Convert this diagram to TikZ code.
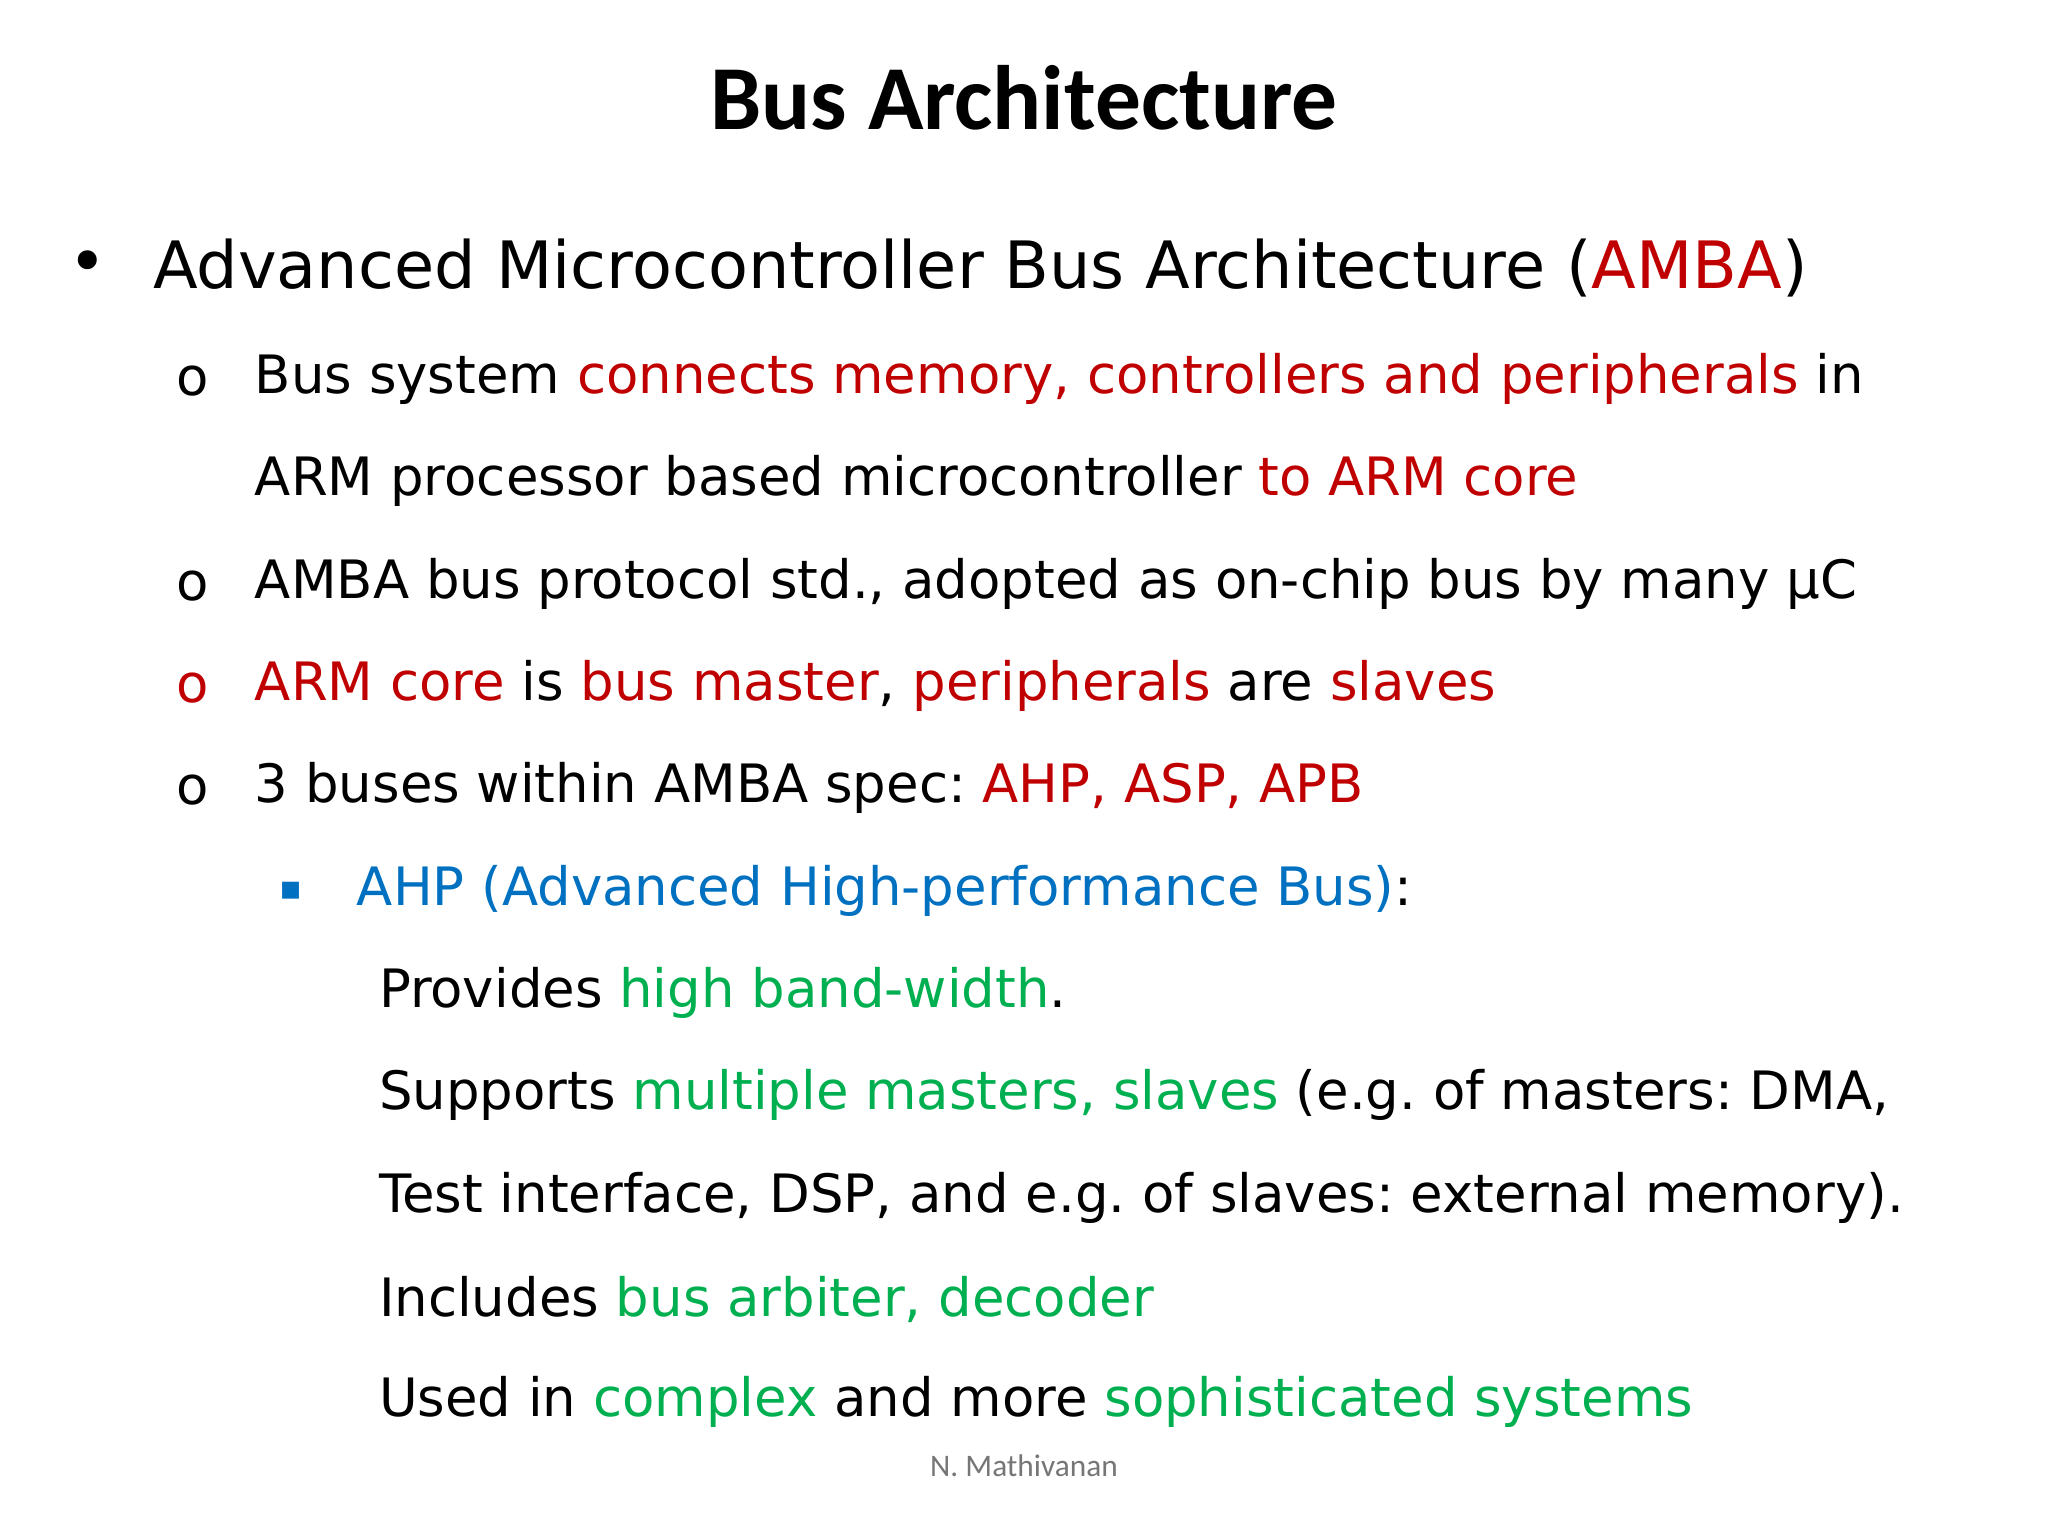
\documentclass[tikz,border=0pt]{standalone}
\usepackage{fontspec}
\setmainfont{DejaVu Sans}
\newfontfamily\titlefont{Carlito}
\definecolor{rd}{RGB}{192,0,0}
\definecolor{bl}{RGB}{0,112,192}
\definecolor{gn}{RGB}{0,176,80}
\definecolor{gy}{RGB}{118,118,118}
\frenchspacing
\begin{document}
\begin{tikzpicture}[x=1pt,y=-1pt,
  ln/.style={anchor=west,inner sep=0pt,font=\fontsize{40.5}{43}\selectfont},
  big/.style={anchor=west,inner sep=0pt,font=\fontsize{50}{54}\selectfont}]
\useasboundingbox[fill=white] (0,0) rectangle (1568,1176);
\node[font=\titlefont\bfseries\fontsize{70}{74}\selectfont,inner sep=0pt] (title) at (784,75) {Bus Architecture};
\node[big] (b1) at (52,205) {•};
\node[big] (l1) at (117,205) {Advanced Microcontroller Bus Architecture (\textcolor{rd}{AMBA})};
\node[ln] (o1) at (135,292) {o};
\node[ln] (l2) at (195,290) {Bus system \textcolor{rd}{connects memory, controllers and peripherals} in};
\node[ln] (l3) at (195,368) {ARM processor based microcontroller \textcolor{rd}{to ARM core}};
\node[ln] (o2) at (135,449) {o};
\node[ln] (l4) at (195,447) {AMBA bus protocol std., adopted as on-chip bus by many μC};
\node[ln,text=rd] (o3) at (135,527) {o};
\node[ln] (l5) at (195,525) {\textcolor{rd}{ARM core} is \textcolor{rd}{bus master}, \textcolor{rd}{peripherals} are \textcolor{rd}{slaves}};
\node[ln] (o4) at (135,605) {o};
\node[ln] (l6) at (195,603) {3 buses within AMBA spec: \textcolor{rd}{AHP, ASP, APB}};
\node[ln,text=bl,font=\fontsize{26}{28}\selectfont] (s1) at (214,682) {▪};
\node[ln] (l7) at (273,682) {\textcolor{bl}{AHP (Advanced High-performance Bus)}:};
\node[ln] (l8) at (290,760) {Provides \textcolor{gn}{high band-width}.};
\node[ln] (l9) at (290,838) {Supports \textcolor{gn}{multiple masters, slaves} (e.g. of masters: DMA,};
\node[ln] (l10) at (290,917) {Test interface, DSP, and e.g. of slaves: external memory).};
\node[ln] (l11) at (290,995) {Includes \textcolor{gn}{bus arbiter, decoder}};
\node[ln] (l12) at (290,1073) {Used in \textcolor{gn}{complex} and more \textcolor{gn}{sophisticated systems}};
\node[font=\titlefont\fontsize{24}{26}\selectfont,text=gy,inner sep=0pt] (foot) at (784,1122) {N. Mathivanan};
\end{tikzpicture}
\end{document}
